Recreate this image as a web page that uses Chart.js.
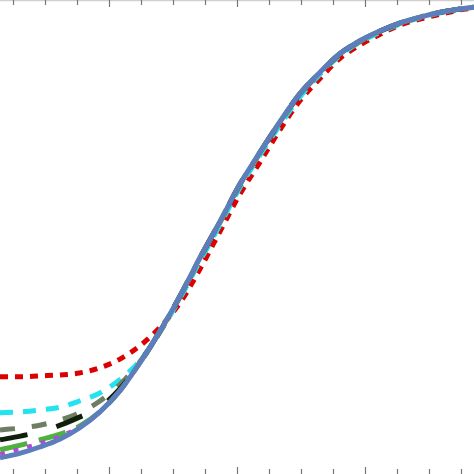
<!DOCTYPE html>
<html>
<head>
<meta charset="utf-8">
<script src="https://cdn.jsdelivr.net/npm/chart.js@4/dist/chart.umd.min.js"></script>
<style>
  html, body { margin: 0; padding: 0; background: #fff; }
  #wrap { width: 474px; height: 474px; }
</style>
</head>
<body>
<div id="wrap"><canvas id="grafik" width="474" height="474"></canvas></div>
<script>
// x positions shared by all curves
const xValues = [0.15, 0.31, 0.46, 0.62, 0.77, 0.93, 1.09, 1.24, 1.40, 1.56, 1.71, 1.87, 2.02,
  2.18, 2.34, 2.49, 2.65, 2.80, 2.96, 3.12, 3.27, 3.43, 3.59, 3.74, 3.85];

// curves (fraction 0..1)
const blueSeries = [0.034, 0.044, 0.057, 0.074, 0.097, 0.131, 0.177, 0.234, 0.302, 0.378, 0.456, 0.534, 0.610,
  0.679, 0.745, 0.802, 0.848, 0.886, 0.914, 0.935, 0.951, 0.964, 0.974, 0.981, 0.985];
const redSeries = [0.205, 0.205, 0.207, 0.209, 0.213, 0.224, 0.243, 0.270, 0.310, 0.363, 0.432, 0.513, 0.589,
  0.658, 0.728, 0.787, 0.835, 0.876, 0.905, 0.928, 0.947, 0.960, 0.970, 0.979, 0.983];
const cyanSeries = [0.129, 0.131, 0.135, 0.141, 0.154, 0.171, 0.200, 0.238, 0.300, 0.373, 0.449, 0.527, 0.603,
  0.673, 0.738, 0.795, 0.844, 0.882, 0.911, 0.932, 0.949, 0.963, 0.973, 0.981, 0.985];
const graySeries = [0.093, 0.097, 0.103, 0.114, 0.129, 0.154, 0.190, 0.236, 0.300, 0.376, 0.454, 0.532, 0.608,
  0.677, 0.743, 0.800, 0.846, 0.884, 0.912, 0.934, 0.950, 0.964, 0.974, 0.981, 0.985];
const blackSeries = [0.072, 0.080, 0.089, 0.103, 0.120, 0.141, 0.181, 0.234, 0.302, 0.378, 0.456, 0.534, 0.610,
  0.679, 0.745, 0.802, 0.848, 0.886, 0.914, 0.935, 0.951, 0.964, 0.974, 0.981, 0.985];
const greenSeries = [0.051, 0.061, 0.072, 0.084, 0.101, 0.131, 0.177, 0.234, 0.302, 0.378, 0.456, 0.534, 0.610,
  0.679, 0.745, 0.802, 0.848, 0.886, 0.914, 0.935, 0.951, 0.964, 0.974, 0.981, 0.985];
const purpleSeries = [0.042, 0.053, 0.065, 0.080, 0.099, 0.131, 0.177, 0.234, 0.302, 0.378, 0.456, 0.534, 0.610,
  0.679, 0.745, 0.802, 0.848, 0.886, 0.914, 0.935, 0.951, 0.964, 0.974, 0.981, 0.985];

// tick marks (no labels visible)
const xTicks = [0.25, 0.5, 0.75, 1, 1.25, 1.5, 1.75, 2, 2.25, 2.5, 2.75, 3, 3.25, 3.5, 3.75];
const xMajorTicks = [1, 2, 3];

function seri(data, renk, kesik, kalinlik) {
  return {
    data: xValues.map((x, i) => ({ x: x, y: data[i] })),
    borderColor: renk,
    borderWidth: kalinlik,
    borderDash: kesik,
    borderCapStyle: "butt",
    pointRadius: 0,
    fill: false,
    cubicInterpolationMode: "monotone"
  };
}

// icten tik cizgileri
const tikEklentisi = {
  id: "tikler",
  afterDraw(chart) {
    const ctx = chart.ctx;
    const x = chart.scales.x;
    const alan = chart.chartArea;
    ctx.save();
    ctx.strokeStyle = "#d0d0d0";
    ctx.lineWidth = 1.5;
    ctx.beginPath();
    ctx.moveTo(alan.left, alan.top + 0.5);
    ctx.lineTo(alan.right, alan.top + 0.5);
    ctx.stroke();
    ctx.strokeStyle = "#777";
    ctx.lineWidth = 1.2;
    xTicks.forEach(t => {
      const px = Math.round(x.getPixelForValue(t)) + 0.5;
      const uzun = xMajorTicks.includes(t);
      ctx.beginPath();
      ctx.moveTo(px, alan.top);
      ctx.lineTo(px, alan.top + (uzun ? 7 : 5));
      ctx.moveTo(px, alan.bottom);
      ctx.lineTo(px, alan.bottom - (uzun ? 7 : 5));
      ctx.stroke();
    });
    ctx.restore();
  }
};

new Chart(document.getElementById("grafik"), {
  type: "line",
  data: {
    datasets: [
      seri(blueSeries, "#5d7dbd", [], 5),
      seri(purpleSeries, "#b34ad6", [5, 9], 4),
      seri(greenSeries, "#4db33d", [28, 12], 5),
      seri(blackSeries, "#0f1f0a", [28, 30], 5),
      seri(graySeries, "#6d7e63", [15, 17], 5),
      seri(cyanSeries, "#22e3ee", [13, 10], 5),
      seri(redSeries, "#dd0000", [8, 7], 5)
    ]
  },
  options: {
    responsive: false,
    animation: false,
    layout: { padding: 0 },
    plugins: { legend: { display: false }, tooltip: { enabled: false } },
    scales: {
      x: { type: "linear", min: 0.15, max: 3.85, display: false },
      y: { type: "linear", min: 0, max: 1, display: false }
    }
  },
  plugins: [tikEklentisi]
});
</script>
</body>
</html>
